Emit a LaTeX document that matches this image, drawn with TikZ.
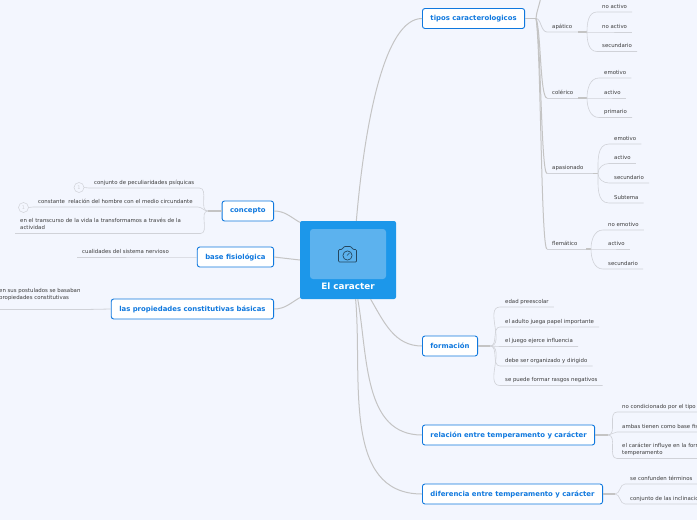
\documentclass[tikz,border=0pt]{standalone}
\usepackage{fontspec}
\setmainfont{DejaVu Sans}
\definecolor{pagebg}{HTML}{F3F6FE}
\definecolor{mainblue}{HTML}{1C97EA}
\definecolor{imageblue}{HTML}{5CB2EE}
\definecolor{topicblue}{HTML}{0F78DE}
\definecolor{twiggray}{HTML}{D0D2D8}
\definecolor{branchgray}{HTML}{C4C4C4}
\definecolor{leaftext}{HTML}{3C3C3C}
\tikzset{
  topic/.style={draw=topicblue, line width=0.9pt, fill=white, rounded corners=2.5pt, text=topicblue, font=\bfseries\fontsize{6.9}{8}\selectfont, inner xsep=8pt, minimum height=20pt, inner ysep=0pt},
  leaf/.style={anchor=south west, inner xsep=5pt, inner ysep=2.5pt, text=leaftext, font=\fontsize{5.4}{7.6}\selectfont, text height=3.8pt, text depth=1.1pt},
  twolines/.style={align=left, text depth=8.7pt},
  branch/.style={draw=branchgray, line width=1pt},
  twig/.style={draw=twiggray, line width=0.6pt},
  stem/.style={draw=branchgray, line width=1.1pt},
  badge/.style={circle, draw=twiggray, fill=pagebg, line width=0.5pt, minimum size=10pt, inner sep=0pt, text=twiggray, font=\fontsize{5}{6}\selectfont}
}
\begin{document}
\begin{tikzpicture}[x=1pt,y=-1pt]

    \clip (0,0) rectangle (697,520);
    \fill[pagebg] (0,0) rectangle (697,520);

    % Central box
    \node[fill=mainblue, rounded corners=2pt, minimum width=96pt, minimum height=78pt, inner sep=0pt] (central) at (348,260) {};
    \node[fill=imageblue, rounded corners=3pt, minimum width=76pt, minimum height=50pt, inner sep=0pt] (picture) at (348,254) {};
    \node[text=white, font=\bfseries\fontsize{8.8}{10}\selectfont, inner sep=0pt] (title) at (348,286) {El caracter};

    % Camera
    \draw[draw=black!60!imageblue, line width=0.7pt, rounded corners=1pt] (338.5,262) -- (338.5,249.5) -- (342,249.5) -- (344,246.5) -- (351,246.5) -- (353,249.5) -- (356.5,249.5) -- (356.5,262) -- cycle;
    \draw[draw=black!60!imageblue, line width=0.7pt] (347.5,255.5) circle (4.6);
    \draw[draw=black!60!imageblue, line width=0.5pt] (349.5,253) -- (347,255.5);

    % Main topics
    \node[topic, anchor=west] (tipos) at (422,18.5) {tipos caracterologicos};
    \node[topic, anchor=east] (concepto) at (274,211) {concepto};
    \node[topic, anchor=east] (base) at (274,257) {base fisiológica};
    \node[topic, anchor=east] (propiedades) at (274,309) {las propiedades constitutivas básicas};
    \node[topic, anchor=west] (formacion) at (422,346) {formación};
    \node[topic, anchor=west] (relacion) at (422,435) {relación entre temperamento y carácter};
    \node[topic, anchor=west] (diferencia) at (422,494) {diferencia entre temperamento y carácter};

    % Branches from the central box
    \draw[branch] (central.78) .. controls (365,120) and (385,18.5) .. (tipos.west);
    \draw[branch] (central.142) to[out=150,in=0] (concepto.east);
    \draw[branch] (central.west) -- (base.east);
    \draw[branch] (central.-142) to[out=210,in=0] (propiedades.east);
    \draw[branch] (central.-60) to[out=-60,in=180] (formacion.west);
    \draw[branch] (central.-76) to[out=-80,in=180] (relacion.west);
    \draw[branch] (central.-79) to[out=-85,in=180] (diferencia.west);

    % concepto
    \coordinate (conceptofan) at (208,211);
    \node[leaf] (peculiaridades) at (89,188) {conjunto de peculiaridades psíquicas};
    \node[leaf] (relacionmedio) at (33,207) {constante\ \ relación del hombre con el medio circundante};
    \node[leaf, twolines, text width=175pt] (transcurso) at (15,233.5) {en el transcurso de la vida la transformamos a través de la\\actividad};
    \node[badge] (notaA) at (79,187.5) {1};
    \node[badge] (notaB) at (23.5,207.5) {1};
    \draw[stem] (concepto.west) -- (conceptofan);
    \draw[twig] (conceptofan) to[out=180,in=0] (peculiaridades.south east) -- (peculiaridades.south west) -- (notaA.east);
    \draw[twig] (conceptofan) to[out=180,in=0] (relacionmedio.south east) -- (relacionmedio.south west) -- (notaB.east);
    \draw[twig] (conceptofan) to[out=180,in=0] (transcurso.south east) -- (transcurso.south west);

    % base fisiologica
    \node[leaf] (cualidades) at (77,257) {cualidades del sistema nervioso};
    \draw[twig, line width=0.8pt] (base.west) -- (cualidades.south east) -- (cualidades.south west);

    % propiedades
    \node[leaf, twolines, inner ysep=1pt] (postulados) at (-6,309.5) {en sus postulados se basaban\\propiedades constitutivas};
    \draw[twig, line width=0.8pt] (propiedades.west) -- (postulados.south east) -- (postulados.south west);

    % tipos caracterologicos
    \coordinate (tiposfan) at (536,18.5);
    \coordinate (arriba) at (541,-5);
    \node[leaf, align=left, text width=21pt] (apatico) at (547,32) {apático};
    \node[leaf, align=left, text width=21pt] (colerico) at (547,98) {colérico};
    \node[leaf, align=left, text width=36pt] (apasionado) at (547,173.5) {apasionado};
    \node[leaf, align=left, text width=29pt] (flematico) at (547,249) {flemático};
    \draw[stem] (tipos.east) -- (tiposfan);
    \draw[branch] (tiposfan) to[out=85,in=-95] (arriba);
    \draw[twig, line width=0.8pt] (tiposfan) .. controls (541,18.5) and (541,32) .. (apatico.south west) -- (apatico.south east);
    \draw[branch] (tiposfan) .. controls (541,30) and (540,98) .. (colerico.south west);
    \draw[branch] (tiposfan) .. controls (541,40) and (541,173.5) .. (apasionado.south west);
    \draw[branch] (tiposfan) .. controls (541,50) and (541,249) .. (flematico.south west);
    \draw[twig] (colerico.south west) -- (colerico.south east);
    \draw[twig] (apasionado.south west) -- (apasionado.south east);
    \draw[twig] (flematico.south west) -- (flematico.south east);

    % apatico
    \coordinate (apaticofan) at (587,32);
    \node[leaf] (apaticoA) at (597,12) {no activo};
    \node[leaf] (apaticoB) at (597,32) {no activo};
    \node[leaf] (apaticoC) at (597,51.5) {secundario};
    \draw[stem] (apatico.south east) -- (apaticofan);
    \draw[twig] (apaticofan) to[out=90,in=180] (apaticoA.south west) -- (apaticoA.south east);
    \draw[twig] (apaticofan) -- (apaticoB.south west) -- (apaticoB.south east);
    \draw[twig] (apaticofan) to[out=-90,in=180] (apaticoC.south west) -- (apaticoC.south east);

    % colerico
    \coordinate (colericofan) at (587,98);
    \node[leaf] (colericoA) at (599,78) {emotivo};
    \node[leaf] (colericoB) at (599,98) {activo};
    \node[leaf] (colericoC) at (599,117.5) {primario};
    \draw[stem] (colerico.south east) -- (colericofan);
    \draw[twig] (colericofan) to[out=90,in=180] (colericoA.south west) -- (colericoA.south east);
    \draw[twig] (colericofan) -- (colericoB.south west) -- (colericoB.south east);
    \draw[twig] (colericofan) to[out=-90,in=180] (colericoC.south west) -- (colericoC.south east);

    % apasionado
    \coordinate (apasionadofan) at (598,173.5);
    \node[leaf] (apasionadoA) at (609,144) {emotivo};
    \node[leaf] (apasionadoB) at (609,163.5) {activo};
    \node[leaf] (apasionadoC) at (609,183) {secundario};
    \node[leaf] (apasionadoD) at (609,203) {Subtema};
    \draw[stem] (apasionado.south east) -- (apasionadofan);
    \draw[twig] (apasionadofan) to[out=90,in=180] (apasionadoA.south west) -- (apasionadoA.south east);
    \draw[twig] (apasionadofan) to[out=90,in=180] (apasionadoB.south west) -- (apasionadoB.south east);
    \draw[twig] (apasionadofan) to[out=-90,in=180] (apasionadoC.south west) -- (apasionadoC.south east);
    \draw[twig] (apasionadofan) to[out=-90,in=180] (apasionadoD.south west) -- (apasionadoD.south east);

    % flematico
    \coordinate (flematicofan) at (591,249);
    \node[leaf] (flematicoA) at (603,230) {no emotivo};
    \node[leaf] (flematicoB) at (603,249) {activo};
    \node[leaf] (flematicoC) at (603,269) {secundario};
    \draw[stem] (flematico.south east) -- (flematicofan);
    \draw[twig] (flematicofan) to[out=90,in=180] (flematicoA.south west) -- (flematicoA.south east);
    \draw[twig] (flematicofan) -- (flematicoB.south west) -- (flematicoB.south east);
    \draw[twig] (flematicofan) to[out=-90,in=180] (flematicoC.south west) -- (flematicoC.south east);

    % formacion
    \coordinate (formacionfan) at (490,346);
    \node[leaf] (edad) at (500,307) {edad preescolar};
    \node[leaf] (adulto) at (500,327) {el adulto juega papel importante};
    \node[leaf] (juego) at (500,346.5) {el juego ejerce influencia};
    \node[leaf] (debe) at (500,366) {debe ser organizado y dirigido};
    \node[leaf] (rasgos) at (500,385.5) {se puede formar rasgos negativos};
    \draw[stem] (formacion.east) -- (formacionfan);
    \draw[twig] (formacionfan) to[out=0,in=180] (edad.south west) -- (edad.south east);
    \draw[twig] (formacionfan) to[out=0,in=180] (adulto.south west) -- (adulto.south east);
    \draw[twig] (formacionfan) -- (juego.south west) -- (juego.south east);
    \draw[twig] (formacionfan) to[out=0,in=180] (debe.south west) -- (debe.south east);
    \draw[twig] (formacionfan) to[out=0,in=180] (rasgos.south west) -- (rasgos.south east);

    % relacion
    \coordinate (relacionfan) at (608,435);
    \node[leaf] (tipo) at (617,412) {no condicionado por el tipo};
    \node[leaf] (ambas) at (617,432) {ambas tienen como base fisiológica};
    \node[leaf, twolines, text width=120pt] (influye) at (617,458.5) {el carácter influye en la formación del\\temperamento};
    \draw[stem] (relacion.east) -- (relacionfan);
    \draw[twig] (relacionfan) to[out=0,in=180] (tipo.south west) -- (tipo.south east);
    \draw[twig] (relacionfan) to[out=0,in=180] (ambas.south west) -- (ambas.south east);
    \draw[twig] (relacionfan) to[out=0,in=180] (influye.south west) -- (influye.south east);

    % diferencia
    \coordinate (diferenciafan) at (615,494);
    \node[leaf, align=left, text width=80pt] (terminos) at (625,484) {se confunden términos};
    \node[leaf] (inclinaciones) at (625,504) {conjunto de las inclinaciones};
    \draw[stem] (diferencia.east) -- (diferenciafan);
    \draw[twig] (diferenciafan) to[out=0,in=180] (terminos.south west) -- (terminos.south east);
    \draw[twig] (diferenciafan) to[out=0,in=180] (inclinaciones.south west) -- (inclinaciones.south east);

\end{tikzpicture}
\end{document}
